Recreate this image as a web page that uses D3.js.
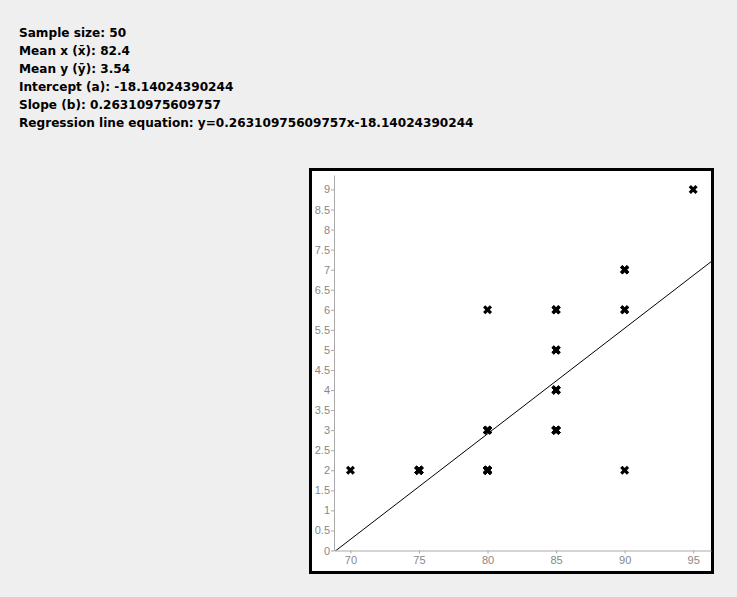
<!DOCTYPE html>
<html>
<head>
<meta charset="utf-8">
<script src="https://cdn.jsdelivr.net/npm/d3@7"></script>
<style>
  body { margin: 0; background: #efefef; }
  svg { display: block; }
  .axis path, .axis line { stroke: #aaa; }
  .axis text { fill: #888; font-family: "Liberation Sans", Arial, sans-serif; font-size: 11px; }
</style>
</head>
<body>
<div id="figure"></div>
<script>
// header lines shown above the plot
var infoLines = [
  "Sample size: 50",
  "Mean x (x\u0304): 82.4",
  "Mean y (y\u0304): 3.54",
  "Intercept (a): -18.14024390244",
  "Slope (b): 0.26310975609757",
  "Regression line equation: y=0.26310975609757x-18.14024390244"
];

// observations, one entry per sample (duplicates overlap)
var xValues = [70,
  75, 75, 75, 75, 75, 75, 75, 75,
  80, 80, 80, 80, 80, 80, 80, 80, 80, 80, 80, 80, 80, 80, 80,
  85, 85, 85, 85, 85, 85, 85, 85, 85, 85, 85, 85, 85, 85, 85, 85, 85, 85, 85,
  90, 90, 90, 90, 90, 90,
  95];
var yValues = [2,
  2, 2, 2, 2, 2, 2, 2, 2,
  2, 2, 2, 2, 2, 2, 2, 2, 2, 2, 3, 3, 3, 3, 6,
  3, 3, 3, 3, 3, 3, 3, 3, 4, 4, 4, 4, 4, 5, 5, 5, 6, 6, 6,
  2, 6, 6, 7, 7, 7,
  9];

var intercept = -18.14024390244;
var slope = 0.26310975609757;

var xTicks = [70, 75, 80, 85, 90, 95];
var yTicks = [0, 0.5, 1, 1.5, 2, 2.5, 3, 3.5, 4, 4.5, 5, 5.5, 6, 6.5, 7, 7.5, 8, 8.5, 9];

var W = 737, H = 597;

var svg = d3.select("#figure")
  .append("svg")
  .attr("width", W)
  .attr("height", H);

// text block
svg.append("g")
  .selectAll("text")
  .data(infoLines)
  .join("text")
  .attr("x", 19)
  .attr("y", (d, i) => 37 + i * 18)
  .attr("font-family", "'DejaVu Sans', Verdana, sans-serif")
  .attr("font-weight", "bold")
  .attr("font-size", "12.1px")
  .attr("fill", "#000")
  .text(d => d);

// framed plot box
svg.append("rect")
  .attr("x", 310.5)
  .attr("y", 169.5)
  .attr("width", 402)
  .attr("height", 403)
  .attr("fill", "#fff")
  .attr("stroke", "#000")
  .attr("stroke-width", 3);

const x = d3.scaleLinear()
  .domain([68.8, 96.3])
  .range([334, 711]);

const y = d3.scaleLinear()
  .domain([0, 9.36])
  .range([550.5, 175]);

svg.append("g")
  .attr("class", "axis")
  .attr("transform", `translate(0,${y(0)})`)
  .call(d3.axisBottom(x).tickValues(xTicks).tickFormat(d => d).tickSize(3).tickSizeOuter(0).tickPadding(3));

svg.append("g")
  .attr("class", "axis")
  .attr("transform", `translate(${x.range()[0]},0)`)
  .call(d3.axisLeft(y).tickValues(yTicks).tickFormat(d => d).tickSize(3).tickSizeOuter(0).tickPadding(1));

svg.append("clipPath")
  .attr("id", "plotclip")
  .append("rect")
  .attr("x", x.range()[0])
  .attr("y", y.range()[1])
  .attr("width", x.range()[1] - x.range()[0])
  .attr("height", y.range()[0] - y.range()[1]);

// regression line across the x domain
var lineData = x.domain().map(v => ({x: v, y: intercept + slope * v}));
svg.append("path")
  .datum(lineData)
  .attr("clip-path", "url(#plotclip)")
  .attr("fill", "none")
  .attr("stroke", "#000")
  .attr("stroke-width", 1)
  .attr("d", d3.line().x(d => x(d.x)).y(d => y(d.y)));

// cross markers
var points = xValues.map((v, i) => ({x: v, y: yValues[i]}));
svg.append("g")
  .selectAll("path")
  .data(points)
  .join("path")
  .attr("transform", d => `translate(${x(d.x)},${y(d.y)}) rotate(45)`)
  .attr("d", d3.symbol().type(d3.symbolCross).size(50))
  .attr("fill", "#000");
</script>
</body>
</html>
